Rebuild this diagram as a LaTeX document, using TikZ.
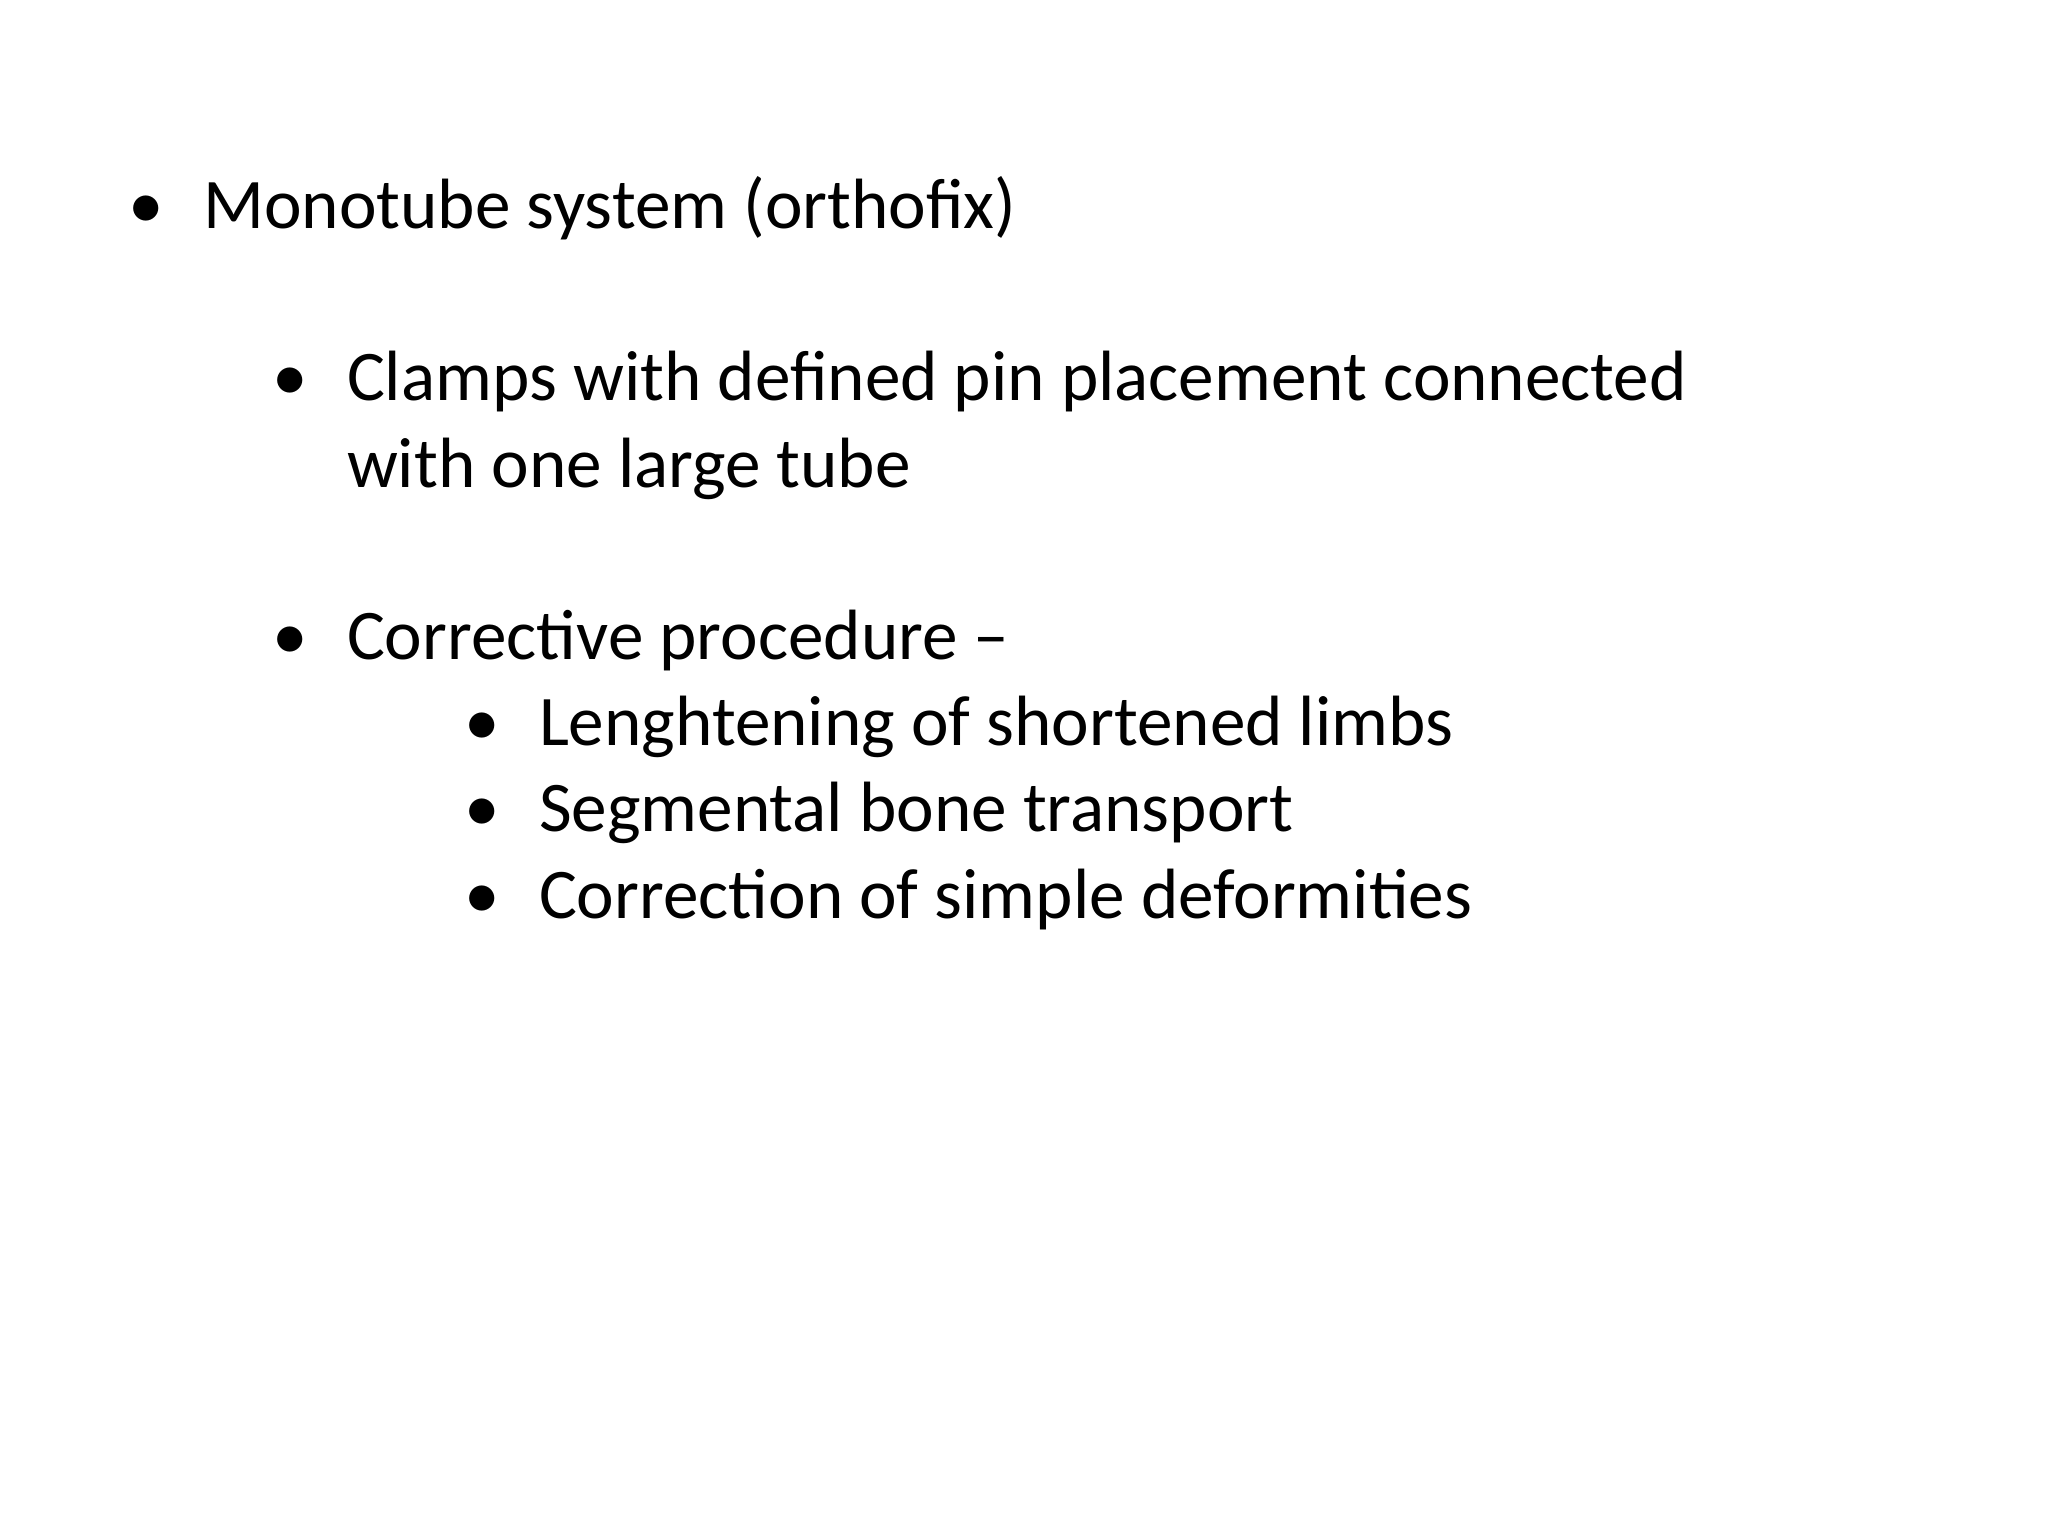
\documentclass[tikz,border=0pt]{standalone}
\usepackage{fontspec}
\setmainfont{Carlito}
\begin{document}
\begin{tikzpicture}[x=0.01cm,y=-0.01cm,
  txt/.style={anchor=base west,inner sep=0pt,font=\fontsize{15.5pt}{18pt}\selectfont}]
\useasboundingbox (0,0) rectangle (1568,1176);
\node[txt] (b1) at (98,175) {•};
\node[txt] (t1) at (155,175) {Monotube system (orthofix)};
\node[txt] (b2) at (208,307) {•};
\node[txt] (t2) at (265,307) {Clamps with defined pin placement connected};
\node[txt] (t2b) at (265,373) {with one large tube};
\node[txt] (b3) at (208,505) {•};
\node[txt] (t3) at (265,505) {Corrective procedure –};
\node[txt] (b4) at (355,571) {•};
\node[txt] (t4) at (412,571) {Lenghtening of shortened limbs};
\node[txt] (b5) at (355,637) {•};
\node[txt] (t5) at (412,637) {Segmental bone transport};
\node[txt] (b6) at (355,703) {•};
\node[txt] (t6) at (412,703) {Correction of simple deformities};
\end{tikzpicture}
\end{document}
